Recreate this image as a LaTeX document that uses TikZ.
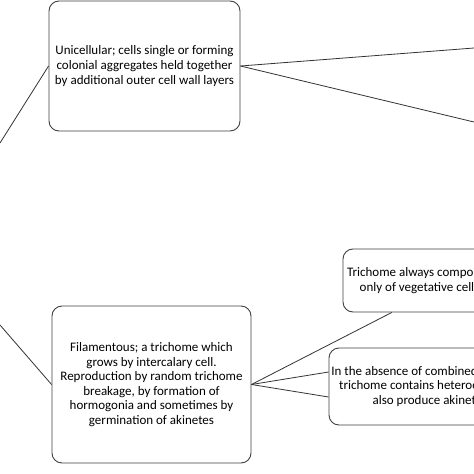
\documentclass[tikz,border=0pt]{standalone}
\usepackage{fontspec}
\setmainfont{Carlito}
\usetikzlibrary{calc}

\tikzset{
	box/.style={draw=black!75, line width=.9pt, rounded corners=10pt, align=center, inner sep=0pt},
	link/.style={draw=black!80, line width=.8pt}
}

\begin{document}
\begin{tikzpicture}[x=1pt,y=-1pt,font=\fontsize{13}{14.6}\selectfont]
		\clip (0,0) rectangle (474,474);
		\fill[white] (0,0) rectangle (474,474);

		\node[box, minimum width=191pt, minimum height=130pt] (uni) at (144.5,66) {Unicellular; cells single or forming\\colonial aggregates held together\\by additional outer cell wall layers};
		\node[box, minimum width=199pt, minimum height=157pt] (fil) at (151.5,384.5) {Filamentous; a trichome which\\grows by intercalary cell.\\Reproduction by random trichome\\breakage, by formation of\\hormogonia and sometimes by\\germination of akinetes};

		\node[box, minimum width=153pt, minimum height=63pt] (veg) at (419.5,280.5) {Trichome always composed\\only of vegetative cells};
		\node[box, minimum width=202pt, minimum height=77pt] (het) at (430,386.5) {In the absence of combined nitrogen,\\trichome contains heterocysts and\\also produce akinetes};

		\coordinate (uniL) at (0,143);
		\coordinate (uniA) at (474,48);
		\coordinate (uniB) at (474,122);
		\coordinate (filL) at (0,325);
		\coordinate (vegS) at ($(veg.south west)!.32!(veg.south east)$);

		\draw[link] (uni.west) -- (uniL);
		\draw[link] (uni.east) -- (uniA);
		\draw[link] (uni.east) -- (uniB);
		\draw[link] (fil.west) -- (filL);
		\draw[link] (fil.east) -- (vegS);
		\draw[link] (fil.east) -- ([yshift=14.5pt]het.west);
		\draw[link] (fil.east) -- ([yshift=-10.5pt]het.west);
	\end{tikzpicture}
\end{document}
